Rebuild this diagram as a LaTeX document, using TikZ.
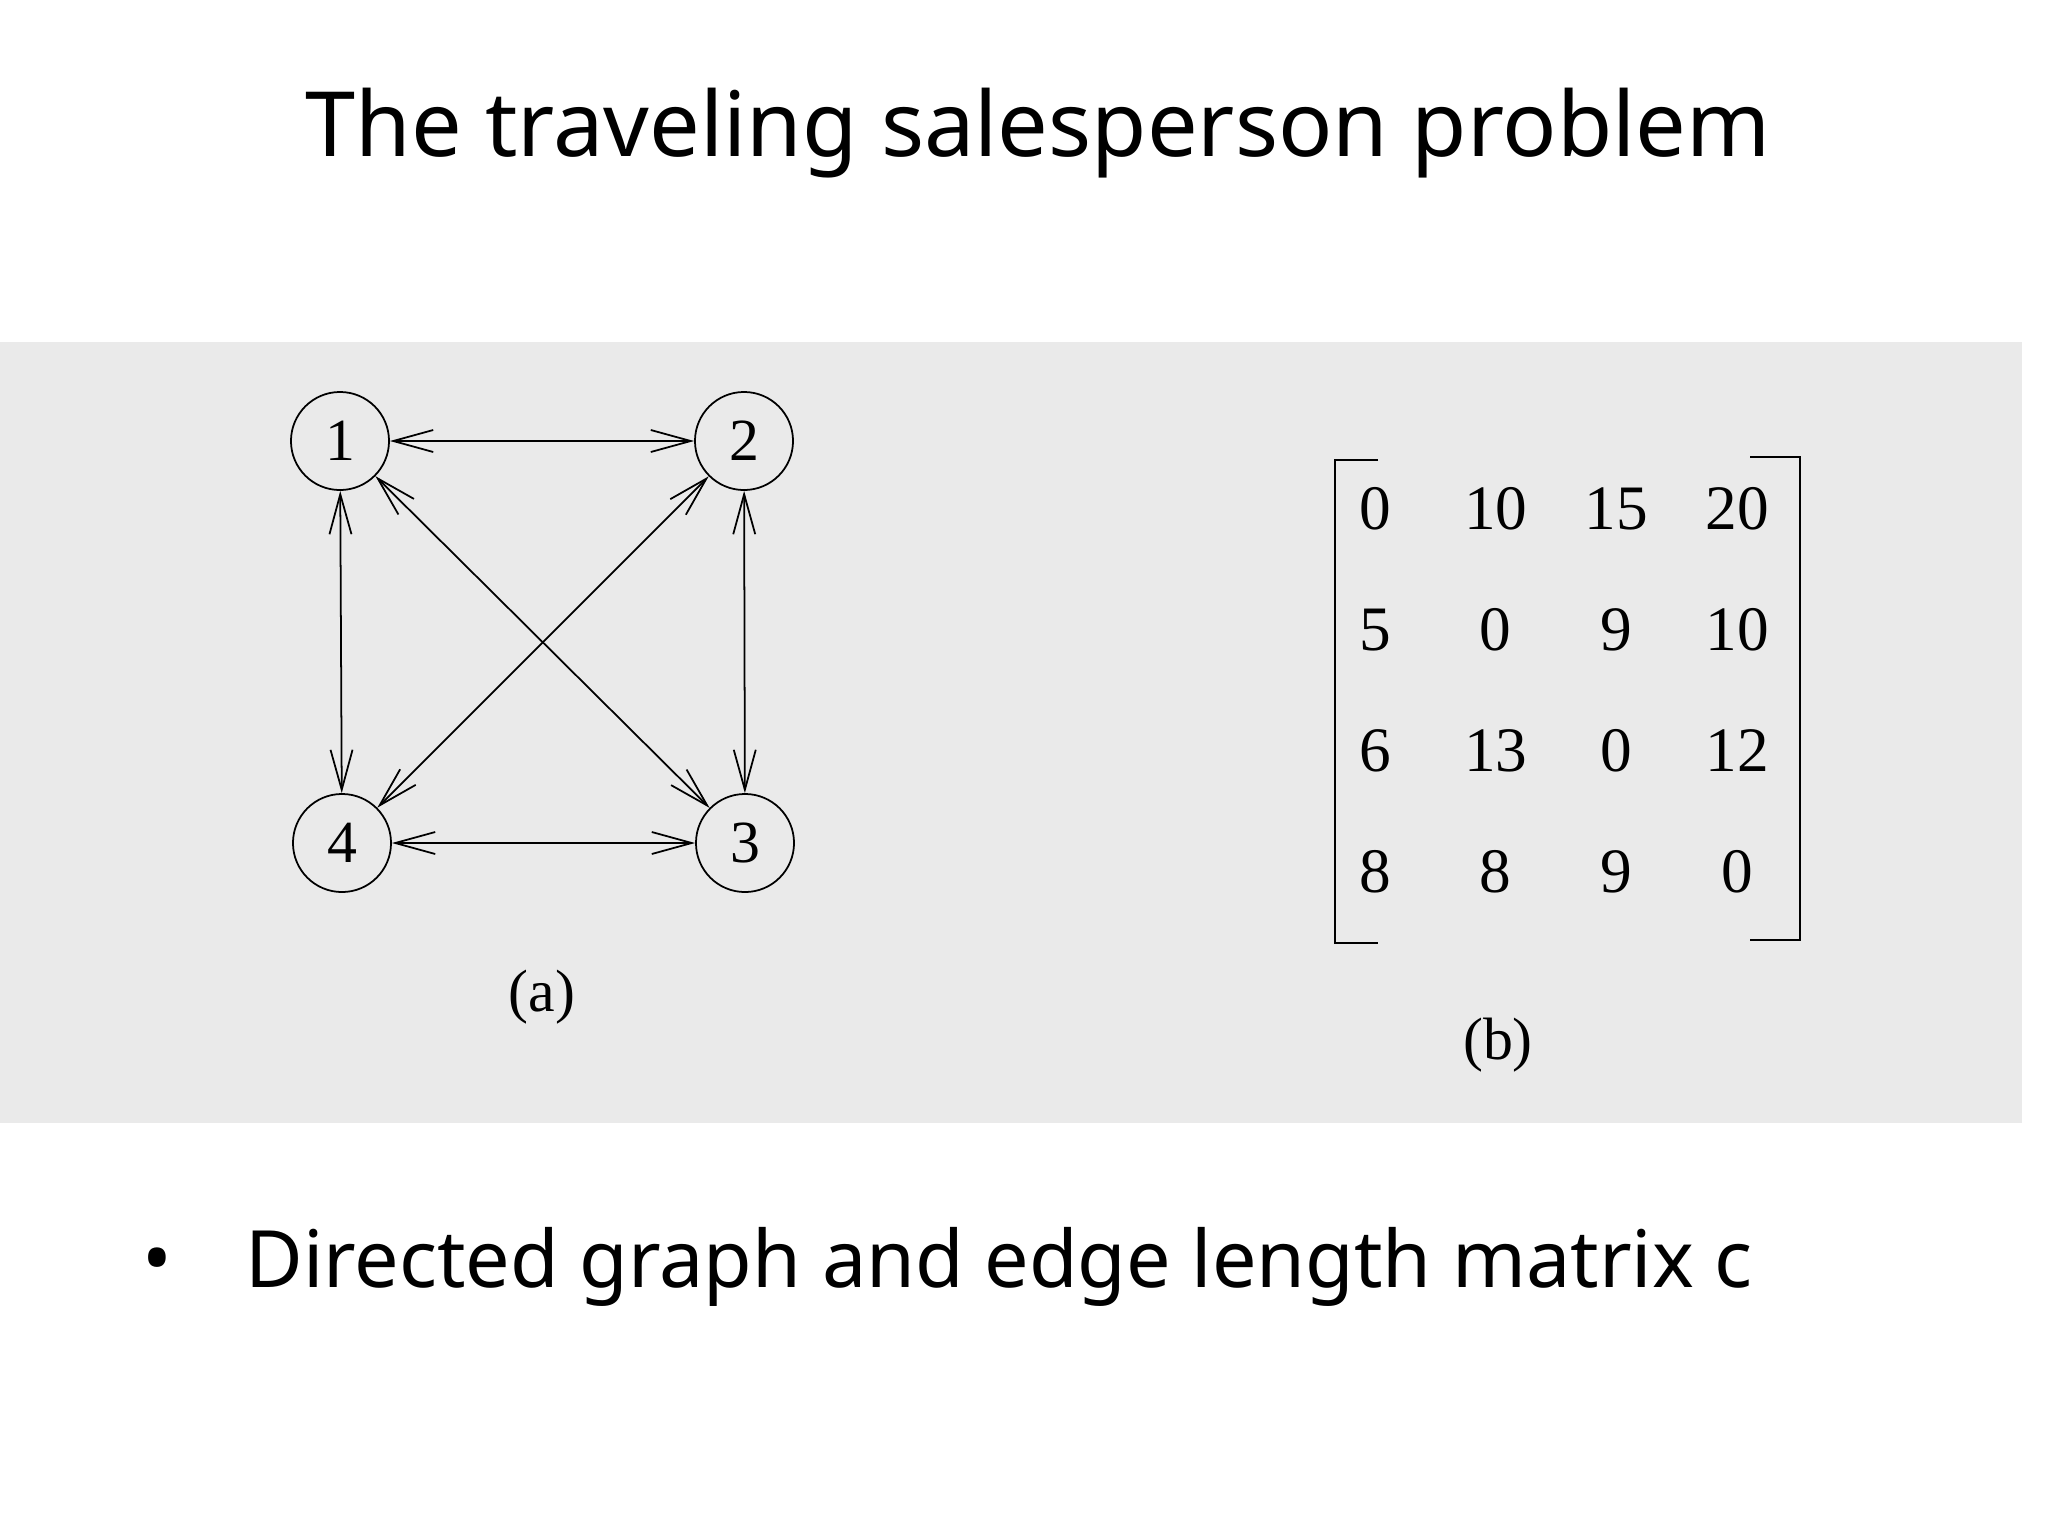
\documentclass[tikz,border=0pt]{standalone}
\usepackage{fontspec}
\setmainfont{Liberation Serif}
\setsansfont{Noto Sans}
\usetikzlibrary{arrows.meta}
\definecolor{scan}{RGB}{234,234,234}
\tikzset{
  city/.style={draw, circle, minimum size=0.98cm, inner sep=0pt, line width=0.5pt,
    font=\fontsize{17}{17}\selectfont},
  edge/.style={{Straight Barb[length=0.4cm,width=0.22cm]}-{Straight Barb[length=0.4cm,width=0.22cm]},
    line width=0.5pt},
  entry/.style={font=\fontsize{18}{18}\selectfont},
  slide/.style={font=\sffamily\fontsize{#1}{#1}\selectfont},
}
\begin{document}
\begin{tikzpicture}[x=0.01cm,y=-0.01cm]
\useasboundingbox (0,0) rectangle (2048,1536);
\fill[scan] (0,342) rectangle (2022,1123);
\node[slide=25.6] (title) at (1038,133) {The traveling salesperson problem};
%%%%
\node[city] (1) at (340,441) {1};
\node[city] (2) at (744,441) {2};
\node[city] (3) at (745,843) {3};
\node[city] (4) at (342,843) {4};
\draw[edge] (1) -- (2);
\draw[edge] (2) -- (3);
\draw[edge] (3) -- (4);
\draw[edge] (4) -- (1);
\draw[edge] (1) -- (3);
\draw[edge] (2) -- (4);
\node[entry, font=\fontsize{17}{17}\selectfont] (capa) at (542,997) {(a)};
%%%%
\draw[line width=0.6pt] (1378,460) -- (1335,460) -- (1335,943) -- (1378,943);
\draw[line width=0.6pt] (1750,457) -- (1800,457) -- (1800,940) -- (1750,940);
\foreach \row [count=\i] in {{0,10,15,20},{5,0,9,10},{6,13,0,12},{8,8,9,0}}
\foreach \v [count=\j] in \row
\node[entry] (m\i\j) at ({1375+120.7*(\j-1)},{509+121*(\i-1)}) {\v};
\node[entry, font=\fontsize{17}{17}\selectfont] (capb) at (1498,1045) {(b)};
%%%%
\node[slide=22.5] (bullet) at (157,1267) {\textbullet};
\node[slide=22.5, anchor=west] (note) at (233,1267) {Directed graph and edge length matrix c};
\end{tikzpicture}
\end{document}
